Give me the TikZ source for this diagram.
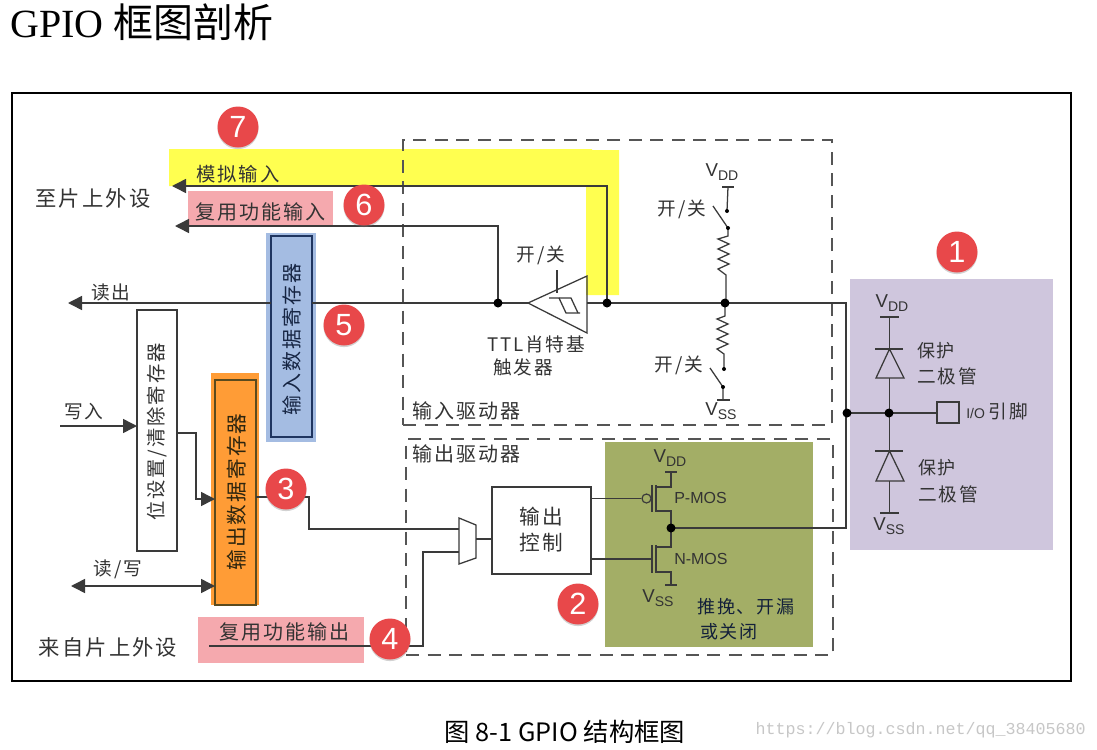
\documentclass[tikz,border=0pt]{standalone}
\usepackage{fontspec}
\setmainfont{Liberation Sans}
\newfontfamily\serifl{Liberation Serif}
\newfontfamily\monol{Liberation Mono}
\newfontfamily\cjk{Noto Sans CJK SC}
\newfontfamily\cjks[LetterSpace=10]{Noto Sans CJK SC}
\usetikzlibrary{arrows.meta,shadows}
\definecolor{wirec}{HTML}{3A3A3A}
\definecolor{textc}{HTML}{333333}
\definecolor{dashc}{HTML}{555555}
\definecolor{yel}{HTML}{FFFF50}
\definecolor{pinkc}{HTML}{F5A9AE}
\definecolor{bluec}{HTML}{A4BCE2}
\definecolor{orangec}{HTML}{FF9C36}
\definecolor{greenc}{HTML}{A3AE66}
\definecolor{purplec}{HTML}{CFC6DD}
\definecolor{redc}{HTML}{E8484A}
\definecolor{navyc}{HTML}{1F3560}
\definecolor{brownc}{HTML}{5A4A1E}
\newcommand{\vsub}[1]{V\raisebox{-3.2pt}{\fontsize{10.5}{10.5}\selectfont #1}}
\newcommand{\fsz}[1]{\fontsize{#1}{#1}\selectfont}
\tikzset{
 sz/.style 2 args={minimum width=#1*0.75pt,minimum height=#2*0.75pt,inner sep=0pt,outer sep=0pt},
 fillbox/.style={rectangle,fill=#1},
 wire/.style={draw=wirec,line width=1.15pt},
 thinwire/.style={draw=wirec,line width=0.95pt},
 tipend/.style={-{Triangle[length=10.5pt,width=10.5pt]}},
 tipboth/.style={{Triangle[length=10.5pt,width=10.5pt]}-{Triangle[length=10.5pt,width=10.5pt]}},
 dashbox/.style={rectangle,draw=dashc,line width=1.15pt,dash pattern=on 9.75pt off 6.4pt},
 regbox/.style={rectangle,draw=#1,line width=1.4pt},
 lab/.style={inner sep=0pt,outer sep=0pt,text=textc,font=\cjks\fsz{#1}},
 vlab/.style={inner sep=0pt,outer sep=0pt,text=textc,font=\fsz{14}},
 dot/.style={circle,fill=black,minimum size=9*0.75pt,inner sep=0pt,outer sep=0pt},
 sdot/.style={circle,fill=black,minimum size=4*0.75pt,inner sep=0pt,outer sep=0pt},
 badge/.style={circle,fill=redc,text=white,minimum size=41*0.75pt,inner sep=0pt,font=\fsz{23},
   drop shadow={opacity=.35,shadow xshift=0pt,shadow yshift=-1.2pt}},
}
\begin{document}
\begin{tikzpicture}[x=0.75pt,y=-0.75pt]
\useasboundingbox (0,0) rectangle (1097,750);
\fill[white] (0,0) rectangle (1097,750);
% title and caption
\node[inner sep=0pt,anchor=west,text=black,font=\serifl\fsz{30}] (title) at (10,22) {GPIO {\cjk 框图剖析}};
\node[inner sep=0pt,text=black,font=\cjk\fsz{19}] (caption) at (565,732) {图 8-1 GPIO 结构框图};
\node[inner sep=0pt,anchor=east,text=black!22,font=\monol\fsz{12.5}] (mark) at (1086,730) {https://blog.csdn.net/qq\_38405680};
% frame
\node[rectangle,draw=black,line width=1.2pt,sz={1059}{588}] (frame) at (541.5,387) {};
% coloured fields
\fill[yel] (169,149) -- (592,149) -- (592,150) -- (619,150) -- (619,295) -- (586,295) -- (586,186) -- (169,186) -- cycle;
\node[fillbox=pinkc,sz={145}{35}] (pinkIn) at (260.5,208.5) {};
\node[fillbox=bluec,sz={50}{209}] (blueF) at (291,337.5) {};
\node[fillbox=orangec,sz={48}{232}] (orangeF) at (235,489) {};
\node[fillbox=pinkc,sz={166}{46}] (pinkOut) at (281,640) {};
\node[fillbox=greenc,sz={208}{205}] (greenF) at (709,544.5) {};
\node[fillbox=purplec,sz={203}{271}] (purpleF) at (951.5,414.5) {};
% dashed driver boxes
\node[dashbox,sz={429}{285}] (inDrv) at (617.5,282.5) {};
\node[dashbox,sz={427}{216}] (outDrv) at (619.5,547) {};
% registers
\node[regbox=navyc,sz={41}{201}] (regIn) at (291.5,336.5) {};
\node[regbox=brownc,sz={41}{225}] (regOut) at (235.5,492.5) {};
\node[regbox=wirec,fill=white,sz={40}{241}] (regBit) at (157,430.5) {};
\node[regbox=wirec,fill=white,sz={99}{87}] (ctrl) at (541.5,530.5) {};
\node[regbox=wirec,sz={22}{21}] (pad) at (948,412.5) {};
% junctions and free ends
\coordinate (jAlt) at (498,303);
\coordinate (jAna) at (607,303);
\coordinate (jMid) at (725,303);
\coordinate (cTR) at (846,303);
\coordinate (jPad) at (847,413);
\coordinate (jDio) at (889,413);
\coordinate (jMos) at (671,528);
\coordinate (cBR) at (846,528);
\coordinate (eAna) at (172,186);
\coordinate (eAlt) at (175,226);
\coordinate (eRead) at (68,303);
\coordinate (eWrite) at (60,426);
\coordinate (eRW) at (71,586);
\coordinate (eAltOut) at (209,646);
\coordinate (stTip) at (528,303);
\coordinate (stTop) at (587,276);
\coordinate (stBot) at (587,333);
\coordinate (stBack) at (587,303);
\coordinate (muxTL) at (459,518);
\coordinate (muxTR) at (476,525);
\coordinate (muxBR) at (476,558);
\coordinate (muxBL) at (459,564);
\coordinate (muxIn1) at (459,529);
\coordinate (muxIn2) at (459,552);
\coordinate (muxOut) at (476,539);
% input wiring
\draw[wire,tipend] (jAna) |- (eAna);
\draw[wire,tipend] (jAlt) |- (eAlt);
\draw[wire,tipend] (regIn.west |- jAlt) -- (eRead);
\draw[wire] (regIn.east |- jAlt) -- (stTip);
\draw[wire] (stBack) -- (cTR) -- (cBR) -- (jMos);
\draw[thinwire,fill=none] (stTip) -- (stTop) -- (stBot) -- cycle;
\draw[thinwire] (549,298) -- (559,298) -- (566,313) -- (580,313);
\draw[thinwire] (559,298) -- (571,298) -- (578,313);
\draw[thinwire] (557,270) -- (557,293);
% pull-up
\coordinate (vddBar) at (728,187);
\coordinate (swU1) at (727,211);
\coordinate (swU2) at (728,228);
\draw[thinwire] (722,187) -- (734,187);
\draw[thinwire] (vddBar) -- (swU1);
\draw[thinwire] (713,206) -- (swU2);
\draw[thinwire] (swU2) -- (728,236) -- (718,239) -- (729,244) -- (718,249) -- (729,254) -- (718,259) -- (729,264) -- (718,269) -- (726,275) -- (726,303);
\node[sdot] (sdU1) at (swU1) {};
\node[sdot] (sdU2) at (swU2) {};
% pull-down
\coordinate (swD1) at (724,369);
\coordinate (swD2) at (723,387);
\draw[thinwire] (jMid) -- (725,316) -- (717,319) -- (728,324) -- (717,329) -- (728,334) -- (717,339) -- (728,344) -- (717,349) -- (724,354) -- (swD1);
\draw[thinwire] (710,368) -- (swD2) -- (723,400);
\draw[thinwire] (717,400) -- (730,400);
\node[sdot] (sdD1) at (swD1) {};
\node[sdot] (sdD2) at (swD2) {};
% output wiring
\draw[wire,tipend] (eWrite) -- (regBit.west |- eWrite);
\draw[wire,tipend] (regBit.east |- 0,433) -- (196,433) -- (196,499) -- (regOut.west |- 0,499);
\draw[wire,tipboth] (eRW) -- (regOut.west |- eRW);
\draw[wire] (regOut.east |- 0,497) -- (309,497) -- (309,529) -- (muxIn1);
\draw[wire] (eAltOut) -- (423,646) -- (423,552) -- (muxIn2);
\draw[thinwire] (muxTL) -- (muxTR) -- (muxBR) -- (muxBL) -- cycle;
\draw[wire] (muxOut) -- (ctrl.west |- muxOut);
% MOS
\draw[wire] (ctrl.east |- 0,498.5) -- (641,498.5);
\node[circle,draw=wirec,line width=0.9pt,minimum size=9*0.75pt,inner sep=0pt] (bub) at (646.5,498.5) {};
\draw[thinwire] (652,485) -- (652,512);
\draw[thinwire] (656,485) -- (656,512);
\draw[thinwire] (656,487) -- (671,487) -- (671,472);
\draw[thinwire] (665,472) -- (677,472);
\draw[thinwire] (656,511) -- (671,511) -- (jMos);
\draw[thinwire] (jMos) -- (671,547) -- (656,547);
\draw[thinwire] (652,545) -- (652,573);
\draw[thinwire] (656,545) -- (656,573);
\draw[thinwire] (656,572) -- (671,572) -- (671,585);
\draw[thinwire] (665,585) -- (677,585);
\draw[wire] (ctrl.east |- 0,559) -- (652,559);
\node[dot] (dMos) at (jMos) {};
% protection diodes
\draw[wire] (jPad) -- (pad.west |- jPad);
\draw[thinwire] (880,317) -- (899,317);
\draw[thinwire] (889.5,317) -- (889.5,349);
\draw[thinwire] (875,349) -- (903,349);
\draw[thinwire] (889.5,349) -- (876,378) -- (904,378) -- cycle;
\draw[thinwire] (889.5,378) -- (889.5,451);
\draw[thinwire] (875,451) -- (903,451);
\draw[thinwire] (889.5,451) -- (876,481) -- (904,481) -- cycle;
\draw[thinwire] (889.5,481) -- (889.5,513);
\draw[thinwire] (880,513) -- (899,513);
% dots
\node[dot] (dAlt) at (jAlt) {};
\node[dot] (dAna) at (jAna) {};
\node[dot] (dMid) at (jMid) {};
\node[dot] (dPad) at (jPad) {};
\node[dot] (dDio) at (jDio) {};
% labels
\node[lab=14.5] (tAna) at (238,174) {模拟输入};
\node[lab=15] (tAltIn) at (260,212) {复用功能输入};
\node[lab=16] (tTo) at (93,198) {至片上外设};
\node[lab=14] (tRead) at (111,292) {读出};
\node[lab=15,rotate=90,text=navyc!70!black] (tRegIn) at (292,339) {输入数据寄存器};
\node[lab=14.5,rotate=90] (tRegBit) at (157,432) {位设置/清除寄存器};
\node[lab=15.5,rotate=90,text=brownc!50!black] (tRegOut) at (237,492) {输出数据寄存器};
\node[lab=14] (tWrite) at (84,412) {写入};
\node[lab=14] (tRW) at (118,569) {读/写};
\node[lab=15] (tAltOut) at (284,632) {复用功能输出};
\node[lab=16] (tFrom) at (108,647) {来自片上外设};
\node[lab=14] (tSw1) at (541,255) {开/关};
\node[lab=14] (tSw2) at (682,209) {开/关};
\node[lab=14] (tSw3) at (679,365) {开/关};
\node[lab=14] (tTTL) at (536,344) {TTL肖特基};
\node[lab=14] (tTrig) at (523,367) {触发器};
\node[lab=15] (tInDrv) at (466,411) {输入驱动器};
\node[lab=15] (tOutDrv) at (466,454) {输出驱动器};
\node[lab=15.5] (tCtl1) at (541,517) {输出};
\node[lab=15.5] (tCtl2) at (541,543) {控制};
\node[vlab] (vdd1) at (722,172) {\vsub{DD}};
\node[vlab] (vss1) at (721,411) {\vsub{SS}};
\node[vlab] (vdd2) at (670,458) {\vsub{DD}};
\node[vlab] (vss2) at (658,598) {\vsub{SS}};
\node[vlab] (vdd3) at (892,303) {\vsub{DD}};
\node[vlab] (vss3) at (889,526) {\vsub{SS}};
\node[inner sep=0pt,anchor=west,text=textc,font=\fsz{12}] (tP) at (674,498) {P-MOS};
\node[inner sep=0pt,anchor=west,text=textc,font=\fsz{12}] (tN) at (674,559) {N-MOS};
\node[lab=13.5,text=navyc!60!black] (tPP) at (746,607) {推挽、开漏};
\node[lab=13.5,text=navyc!60!black] (tOff) at (729,632) {或关闭};
\node[lab=13.5] (tPr1) at (936,351) {保护};
\node[lab=14] (tDi1) at (947,376) {二极管};
\node[lab=13.5] (tPr2) at (937,468) {保护};
\node[lab=14] (tDi2) at (948,494) {二极管};
\node[inner sep=0pt,anchor=west,text=textc,font=\fsz{10.5}] (tIO) at (966,411) {I/O {\cjks\fsz{14}引脚}};
% numbered badges
\node[badge] (b1) at (957,252) {1};
\node[badge] (b2) at (578,604) {2};
\node[badge] (b3) at (286,489) {3};
\node[badge] (b4) at (390,639) {4};
\node[badge] (b5) at (344,325) {5};
\node[badge] (b6) at (364,205) {6};
\node[badge] (b7) at (238,127) {7};
\end{tikzpicture}
\end{document}
